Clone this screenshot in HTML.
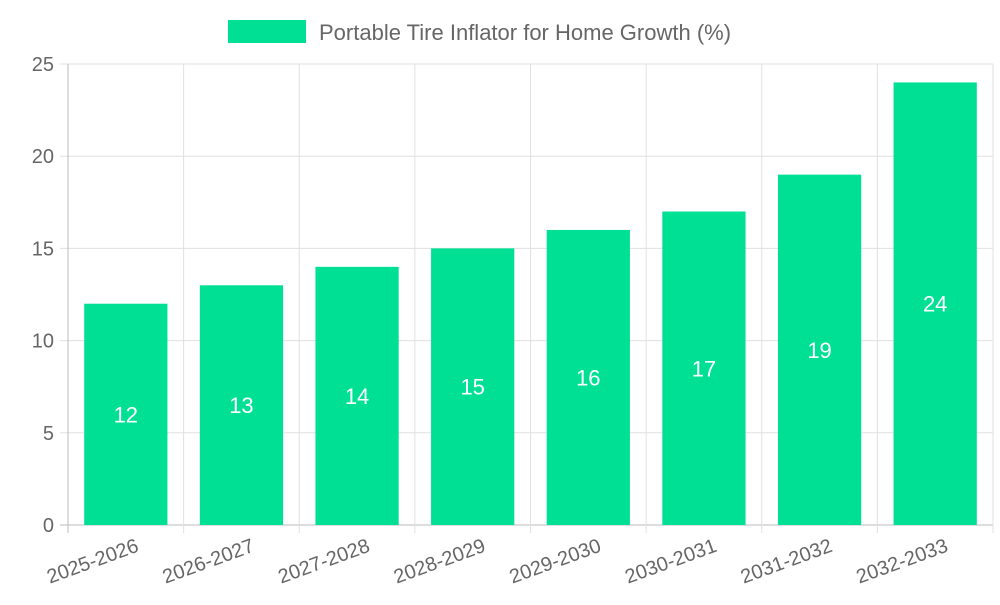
<!DOCTYPE html>
<html><head><meta charset="utf-8"><style>
body{margin:0;background:#fff;}
svg{font-family:"Liberation Sans",sans-serif;}
</style></head><body>
<svg id="chart" width="1000" height="600">
<g>
<rect x="228" y="20" width="78" height="23" fill="#00e095"/>
<text x="319" y="40" font-size="22" fill="#666">Portable Tire Inflator for Home Growth (%)</text>
</g>
<g id="grid"></g>
<g id="bars"></g>
<g id="axes"></g>
</svg>
<script>
const categories=["2025-2026","2026-2027","2027-2028","2028-2029","2029-2030","2030-2031","2031-2032","2032-2033"];
const values=[12,13,14,15,16,17,19,24];
const yTicks=[0,5,10,15,20,25];
const L=68,R=993,T=64,B=525,yMax=25;
const NS="http://www.w3.org/2000/svg";
const bw=(R-L)/categories.length;
const y=v=>B-(v/yMax)*(B-T);
const x=i=>L+i*bw;
function mk(tag,attrs,parent,txt){const e=document.createElementNS(NS,tag);for(const k in attrs)e.setAttribute(k,attrs[k]);if(txt!==undefined)e.textContent=txt;parent.appendChild(e);return e;}
const grid=document.getElementById('grid'),bars=document.getElementById('bars'),axes=document.getElementById('axes');
yTicks.forEach(t=>{
  const l=mk('line',{x1:L-8,x2:R,y1:y(t),y2:y(t),stroke:t===0?'#bbb':'#e0e0e0','stroke-width':1},grid);
  
  
  const tx=mk('text',{x:L-14,y:y(t)+7,'text-anchor':'end','font-size':20,fill:'#666'},axes,String(t));
  
  
});
for(let i=0;i<=categories.length;i++){
  const l=mk('line',{x1:x(i),x2:x(i),y1:T,y2:B+8,stroke:i===0?'#bbb':'#e0e0e0','stroke-width':1},grid);
  
  
}
categories.forEach((c,i)=>{
  const w=bw*0.72,bx=x(i)+(bw-w)/2,v=values[i];
  const r=mk('rect',{x:bx,y:y(v),width:w,height:B-y(v),fill:'#00e095'},bars);
  
  
  const vt=mk('text',{x:bx+w/2,y:(y(v)+B)/2+8,'text-anchor':'middle','font-size':22,fill:'#fff'},bars,String(v));
  
  
  const cx=x(i)+bw/2+14,cy=B+26;
  const ct=mk('text',{x:cx,y:cy,'text-anchor':'end','font-size':20,fill:'#666',transform:`rotate(-20 ${cx} ${cy})`},axes,c);
  
  
});
</script>
</body></html>
